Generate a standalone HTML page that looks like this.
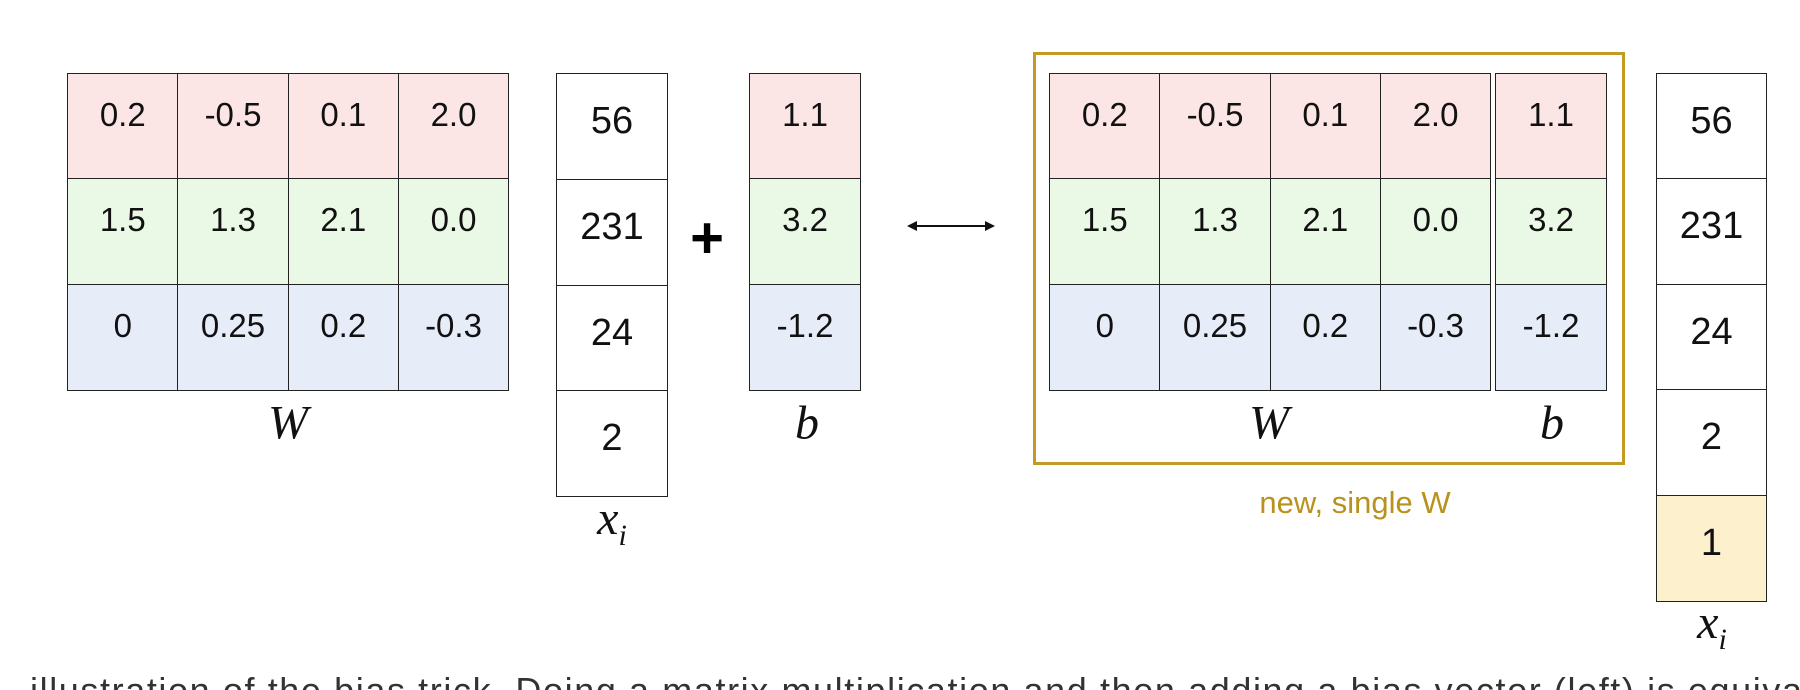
<!DOCTYPE html>
<html style="overflow:hidden;height:690px"><head><meta charset="utf-8"><style>
body{margin:0;width:1800px;height:690px;overflow:hidden;background:#fff;position:relative;font-family:"Liberation Sans",sans-serif}
.c{position:absolute;box-sizing:border-box;border:1.5px solid #222;display:flex;justify-content:center;align-items:flex-start;font-size:33px;color:#111}
.r{background:#fbe6e5}.g{background:#eaf8e6}.b{background:#e6ecf8}.y{background:#fdf0cd}.w{background:#fff}
.m{position:absolute;font-family:"Liberation Serif",serif;font-style:italic;font-size:48px;color:#111;transform:translate(-50%,-50%)}
.t{position:absolute;transform:translate(-50%,-50%)}
</style></head><body>
<script>
function cell(x,y,w,h,cls,txt,fs,pad){var d=document.createElement('div');d.className='c '+cls;d.style.cssText='left:'+x+'px;top:'+y+'px;width:'+w+'px;height:'+h+'px;padding-top:'+(pad||22)+'px;'+(fs?'font-size:'+fs+'px;':'');d.textContent=txt;document.body.appendChild(d);}
var W=[["0.2","-0.5","0.1","2.0"],["1.5","1.3","2.1","0.0"],["0","0.25","0.2","-0.3"]];
var B=["1.1","3.2","-1.2"],cl=["r","g","b"],ry=[73,178,284,389];
function mat(x0){for(var i=0;i<3;i++)for(var j=0;j<4;j++)cell(x0+j*110.25,ry[i],111.5,ry[i+1]-ry[i]+1.5,cl[i],W[i][j]);}
mat(67);mat(1049);
for(var i=0;i<3;i++){cell(749,ry[i],112,ry[i+1]-ry[i]+1.5,cl[i],B[i]);cell(1495,ry[i],112,ry[i+1]-ry[i]+1.5,cl[i],B[i]);}
var X=["56","231","24","2","1"];
for(var i=0;i<4;i++)cell(556,73+i*105.75,112,107,"w",X[i],38,26);
for(var i=0;i<5;i++)cell(1656,73+i*105.4,111,107,i==4?"y":"w",X[i],38,26);
</script>
<div style="position:absolute;left:1033px;top:52px;width:592px;height:413px;box-sizing:border-box;border:3px solid #c39b22"></div>
<div class="m" style="left:288px;top:423px">W</div>
<div class="m" style="left:807px;top:423px">b</div>
<div class="m" style="left:612px;top:522px">x<sub style="font-size:30px">i</sub></div>
<div class="m" style="left:1269px;top:423px">W</div>
<div class="m" style="left:1552px;top:423px">b</div>
<div class="m" style="left:1712px;top:626px">x<sub style="font-size:30px">i</sub></div>
<div class="t" style="left:707px;top:238px;font-size:58px;font-weight:bold">+</div>
<div class="t" style="left:1355px;top:503px;font-size:31px;color:#b8921c">new, single W</div>
<svg style="position:absolute;left:905px;top:216px" width="92" height="20"><line x1="8" y1="10" x2="84" y2="10" stroke="#111" stroke-width="2"/><polygon points="2,10 12,5 12,15" fill="#111"/><polygon points="90,10 80,5 80,15" fill="#111"/></svg>
<div style="position:absolute;left:0;top:660px;width:1800px;height:30px;overflow:hidden">
<div style="position:absolute;left:30px;top:10px;width:1770px;overflow:hidden;font-size:36px;color:#333;white-space:nowrap;letter-spacing:1.6px">illustration of the bias trick. Doing a matrix multiplication and then adding a bias vector (left) is equivalent to</div>
</div>
</body></html>
